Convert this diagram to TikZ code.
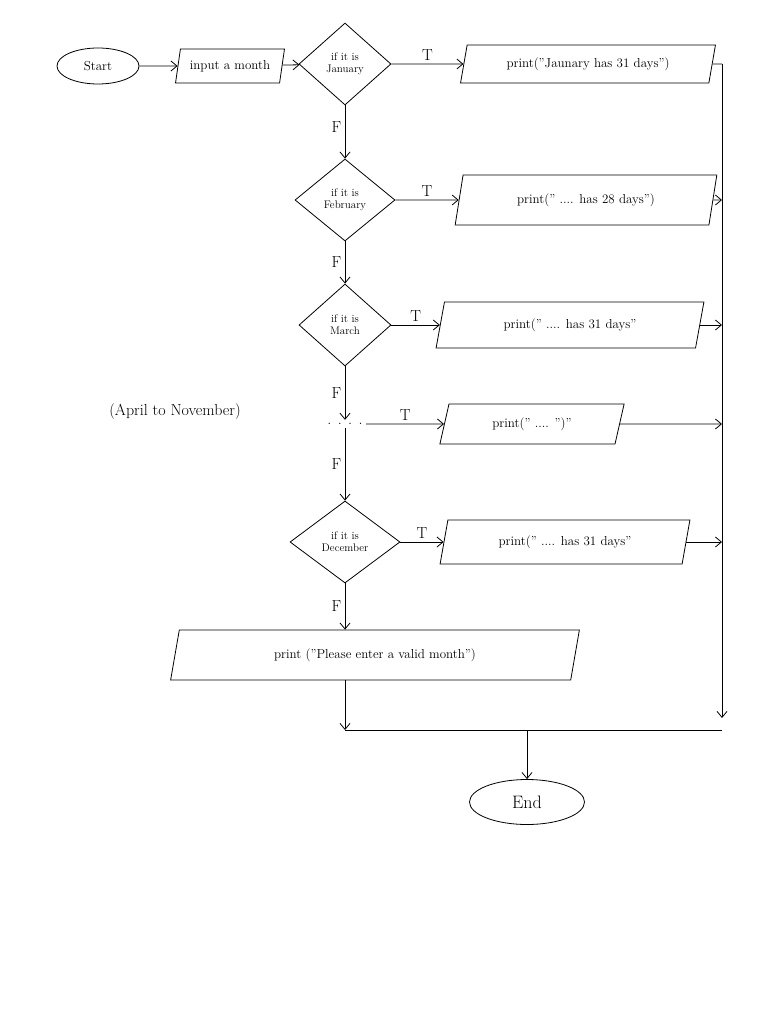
\documentclass[tikz,border=0pt]{standalone}
\usetikzlibrary{shapes.geometric,arrows.meta}
\begin{document}
\begin{tikzpicture}[x=1pt,y=-1pt,
  every node/.style={font=\fontsize{13}{15}\selectfont},
  term/.style={draw,ellipse,thick,minimum width=82,minimum height=36,inner sep=0},
  io/.style={draw,thick,trapezium,trapezium left angle=75,trapezium right angle=105,trapezium stretches=true,inner sep=2},
  dec/.style={draw,thick,diamond,trapezium stretches=true,minimum width=92,minimum height=82,inner sep=0,align=center,font=\fontsize{11}{12}\selectfont},
  arr/.style={thick,-{Straight Barb[length=6pt,width=10pt]}},
  lbl/.style={font=\fontsize{16}{18}\selectfont}]
\useasboundingbox (0,0) rectangle (768,1024);
\node[term] (start) at (98,66) {Start};
\node[io,minimum width=110,minimum height=34] (inp) at (230,66) {input a month};
\node[dec] (jan) at (345,64) {if it is\\January};
\node[io,minimum width=255,minimum height=38] (p1) at (588,64) {print("Jaunary has 31 days")};
\node[dec,minimum width=100] (feb) at (345,200) {if it is\\February};
\node[io,minimum width=262,minimum height=50] (p2) at (586,200) {print(" .... has 28 days")};
\node[dec] (mar) at (345,325) {if it is\\March};
\node[io,minimum width=268,minimum height=46] (p3) at (570,325) {print(" .... has 31 days"};
\node[lbl] (apr) at (175,412) {(April to November)};
\node[lbl] (dots) at (345,424) {. . . .};
\node[io,minimum width=185,minimum height=40] (p4) at (532,424) {print(" .... ")"};
\node[dec,minimum width=110] (dec) at (345,542) {if it is\\December};
\node[io,minimum width=250,minimum height=44] (p5) at (565,542) {print(" .... has 31 days"};
\node[io,minimum width=410,minimum height=50] (p6) at (375,655) {print ("Please enter a valid month")};
\node[term,minimum width=115,minimum height=45] (end) at (527,802) {\fontsize{18}{20}\selectfont End};
\coordinate (r1) at (722,64);
\coordinate (r2) at (722,200);
\coordinate (r3) at (722,325);
\coordinate (r4) at (722,424);
\coordinate (r5) at (722,542);
\coordinate (rb) at (722,718);
\coordinate (m1) at (345,690);
\coordinate (m2) at (345,730);
\coordinate (m3) at (722,730);
\coordinate (e1) at (527,730);
\draw[arr] (start) -- (inp);
\draw[arr] (inp) -- (jan);
\draw[arr] (jan) -- node[above,lbl]{T} (p1);
\draw[arr] (jan) -- node[left,lbl,pos=0.4]{F} (feb);
\draw[arr] (feb) -- node[above,lbl]{T} (p2);
\draw[arr] (feb) -- node[left,lbl]{F} (mar);
\draw[arr] (mar) -- node[above,lbl]{T} (p3);
\draw[arr] (mar) -- node[left,lbl]{F} (dots);
\draw[arr] (dots) -- node[above,lbl]{T} (p4);
\draw[arr] (dots) -- node[left,lbl]{F} (dec);
\draw[arr] (dec) -- node[above,lbl]{T} (p5);
\draw[arr] (dec) -- node[left,lbl]{F} (p6.north -| dec);
\draw[thick] (p1) -- (r1);
\draw[arr] (r1) -- (rb);
\draw[arr] (p2) -- (r2);
\draw[arr] (p3) -- (r3);
\draw[arr] (p4) -- (r4);
\draw[arr] (p5) -- (r5);
\draw[arr] (p6.south -| m1) -- (m2);
\draw[thick] (m2) -- (m3);
\draw[arr] (e1) -- (end);
\end{tikzpicture}
\end{document}
